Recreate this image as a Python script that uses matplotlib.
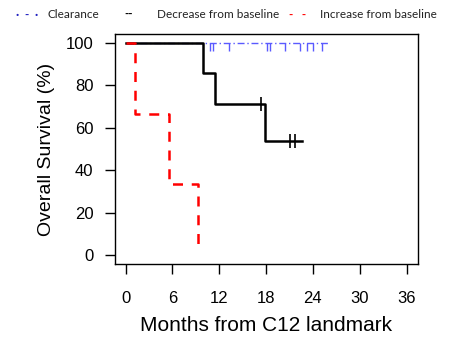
import matplotlib.pyplot as plt
import numpy as np

# step curves (months, survival %)
clear_t = [0, 25.9]
clear_s = [100, 100]
clear_cens = [10.8, 11.2, 13.2, 18.1, 18.5, 20.4, 22.3, 23.2, 24.0, 25.1]

dec_t = [0, 9.9, 11.4, 17.8, 22.6]
dec_s = [100, 85.7, 71.4, 53.6, 53.6]
dec_cens_t = [17.3, 21.1, 21.7]
dec_cens_s = [71.4, 53.6, 53.6]

inc_t = [0, 1.2, 5.5, 9.3]
inc_s = [100, 66.7, 33.3, 3]

xticks = [0, 6, 12, 18, 24, 30, 36]
yticks = [0, 20, 40, 60, 80, 100]

plt.rcParams['font.family'] = ['Liberation Sans', 'DejaVu Sans']

fig = plt.figure(figsize=(4.74, 3.51), dpi=100)
ax = fig.add_axes([0.2426, 0.2479, 0.6393, 0.6552])

ax.step(clear_t, clear_s, where='post', color='#5a5aff', lw=1.0,
        dashes=(5, 2, 1, 2), zorder=2)
ax.plot(clear_cens, [100] * len(clear_cens), ls='none', marker=3,
        ms=6, mew=1.0, color='#5a5aff', zorder=2)

ax.step(dec_t, dec_s, where='post', color='black', lw=1.8, zorder=3)
ax.plot(dec_cens_t, dec_cens_s, ls='none', marker='|', ms=10, mew=1.2,
        color='black', zorder=3)

ax.step(inc_t, inc_s, where='post', color='red', lw=1.8,
        dashes=(4, 3.5), zorder=4)

ax.set_xlim(-1.37, 37.47)
ax.set_ylim(-4.1, 104.1)
ax.set_xticks(xticks)
ax.set_yticks(yticks)
ax.tick_params(axis='both', length=7.5, width=1.0, labelsize=12)
ax.tick_params(axis='x', pad=12)
ax.tick_params(axis='y', pad=8)
for sp in ax.spines.values():
    sp.set_linewidth(1.0)

ax.set_xlabel('Months from C12 landmark', fontsize=15, labelpad=7)
ax.set_ylabel('Overall Survival (%)', fontsize=14, labelpad=8)

# legend row on top
lf = ['Lato', 'DejaVu Sans']
fig.text(16 / 474, 0.96, '·  -  ·', color='#2020c0', fontsize=8.5, va='center',
         family=lf, fontweight='bold')
fig.text(47 / 474, 0.96, 'Clearance', fontsize=8.5, va='center', family=lf, color='#222222')
fig.text(124 / 474, 0.96, '--', fontsize=8.5, va='center', fontweight='bold', family=lf)
fig.text(157 / 474, 0.96, 'Decrease from baseline', fontsize=8.5, va='center',
         family=lf, color='#222222')
fig.text(289 / 474, 0.96, '-   -', color='red', fontsize=8.5, va='center',
         fontweight='bold', family=lf)
fig.text(320 / 474, 0.96, 'Increase from baseline', fontsize=8.5, va='center',
         family=lf, color='#222222')

fig.savefig('out.png', dpi=100)
